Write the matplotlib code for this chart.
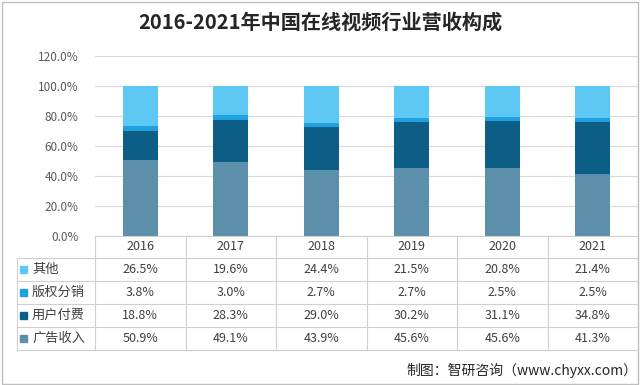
import matplotlib.pyplot as plt
import numpy as np
from matplotlib.transforms import blended_transform_factory
from matplotlib.patches import Rectangle

plt.rcParams['font.family'] = ['Noto Sans CJK SC', 'DejaVu Sans']

years = ['2016', '2017', '2018', '2019', '2020', '2021']
series = ['其他', '版权分销', '用户付费', '广告收入']
ads = [50.9, 49.1, 43.9, 45.6, 45.6, 41.3]
paid = [18.8, 28.3, 29.0, 30.2, 31.1, 34.8]
copyright_ = [3.8, 3.0, 2.7, 2.7, 2.5, 2.5]
other = [26.5, 19.6, 24.4, 21.5, 20.8, 21.4]
colors = {'广告收入': '#5B8FAA', '用户付费': '#0D5E86',
          '版权分销': '#1FA0E0', '其他': '#5CC8F3'}
values = {'广告收入': ads, '用户付费': paid, '版权分销': copyright_, '其他': other}

W, H = 640, 385
fig = plt.figure(figsize=(6.4, 3.85), dpi=100)
ax = fig.add_axes([95 / W, 1 - 236 / H, 543 / W, 180 / H])

x = np.arange(len(years))
bottom = np.zeros(len(years))
for name in ['广告收入', '用户付费', '版权分销', '其他']:
    v = np.array(values[name])
    ax.bar(x, v, 0.39, bottom=bottom, color=colors[name], zorder=3)
    bottom += v

ax.set_xlim(-0.5, 5.5)
ax.set_ylim(0, 120)
ax.set_yticks(np.arange(0, 121, 20))
ax.set_yticklabels([f'{t:.1f}%' for t in np.arange(0, 121, 20)], color='#595959', fontsize=8.5)
ax.tick_params(axis='y', length=0, pad=12)
ax.set_xticks([])
ax.grid(axis='y', color='#D9D9D9', linewidth=0.8, zorder=0)
for s in ax.spines.values():
    s.set_visible(False)

fig.text(0.5, 1 - 22 / H, '2016-2021年中国在线视频行业营收构成', ha='center', va='center',
         fontsize=14.5, fontweight='bold', color='#262626')

# table below the plot
tr = blended_transform_factory(ax.transData, fig.transFigure)
trf = fig.transFigure
line_c = '#D0D0D0'
rows_y = [236, 258, 281, 304, 327, 350]
fy = lambda y: 1 - y / H
# horizontal lines
for i, y in enumerate(rows_y):
    xl = 17 / W if i >= 1 else 95 / W
    fig.add_artist(plt.Line2D([xl, 638 / W], [fy(y), fy(y)], color=line_c, lw=0.8, transform=trf))
# vertical lines
for b in np.arange(-0.5, 6.0, 1.0):
    ax.plot([b, b], [fy(236), fy(350)], color=line_c, lw=0.8, transform=tr, clip_on=False)
fig.add_artist(plt.Line2D([17 / W, 17 / W], [fy(258), fy(350)], color=line_c, lw=0.8, transform=trf))

for i, yr in enumerate(years):
    ax.text(i, fy(247), yr, ha='center', va='center', fontsize=9, color='#404040', transform=tr)
for r, name in enumerate(series):
    yc = fy((rows_y[r + 1] + rows_y[r + 2]) / 2)
    fig.add_artist(Rectangle((20 / W, yc - 3.5 / H), 7 / W, 7 / H, color=colors[name], transform=trf))
    fig.text(32 / W, yc, name, ha='left', va='center', fontsize=9.5, color='#404040')
    for i, v in enumerate(values[name]):
        ax.text(i, yc, f'{v:.1f}%', ha='center', va='center', fontsize=9, color='#404040', transform=tr)

fig.text(637 / W, fy(370), '制图：智研咨询（www.chyxx.com）', ha='right', va='center',
         fontsize=10, color='#262626')

fig.add_artist(Rectangle((1.5 / W, 1.5 / H), 636 / W, 382 / H, fill=False,
                         edgecolor='#BFBFBF', lw=1, transform=trf))

fig.savefig('out.png', dpi=100)
